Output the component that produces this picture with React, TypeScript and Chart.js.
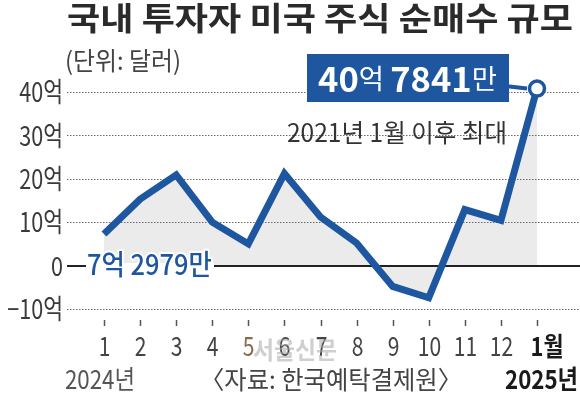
import React, { useEffect, useRef } from "react";
import { Chart, registerables } from "chart.js";

Chart.register(...registerables);

// ---- data ----
const categories = ["1", "2", "3", "4", "5", "6", "7", "8", "9", "10", "11", "12", "1월"];
const values = [7.2979, 15.3, 20.9, 10.0, 5.0, 21.2, 11.2, 5.2, -4.8, -7.4, 12.9, 10.4, 40.7841];
const yTicks = [40, 30, 20, 10, 0, -10];
const yTickLabels = ["40억", "30억", "20억", "10억", "0", "−10억"];
const titleText = "국내 투자자 미국 주식 순매수 규모";
const unitText = "(단위: 달러)";
const sourceText = "〈자료: 한국예탁결제원〉";
const startYearText = "2024년";
const endYearText = "2025년";
const firstValueText = ["7억", " 2979만"];
const lastValueParts = ["40", "억 ", "7841", "만"];
const noteText = "2021년 1월 이후 최대";
const watermarkText = "서울신문";

const BLUE = "#1e56a0";
const FONT = '"Noto Sans CJK KR", "Noto Sans", sans-serif';

type Run = { t: string; font: string; color: string };

function drawRuns(
  ctx: CanvasRenderingContext2D,
  runs: Run[],
  left: number,
  right: number,
  cy: number,
  halo = 0
) {
  const widths = runs.map((r) => {
    ctx.font = r.font;
    return ctx.measureText(r.t).width;
  });
  const total = widths.reduce((a, b) => a + b, 0);
  const sx = (right - left) / total;
  ctx.save();
  ctx.translate(left, cy);
  ctx.scale(sx, 1);
  ctx.textAlign = "left";
  ctx.textBaseline = "middle";
  if (halo > 0) {
    let x = 0;
    runs.forEach((r, i) => {
      ctx.font = r.font;
      ctx.strokeStyle = "#ffffff";
      ctx.lineWidth = halo;
      ctx.lineJoin = "round";
      ctx.strokeText(r.t, x, 0);
      x += widths[i];
    });
  }
  let x = 0;
  runs.forEach((r, i) => {
    ctx.font = r.font;
    ctx.fillStyle = r.color;
    ctx.fillText(r.t, x, 0);
    x += widths[i];
  });
  ctx.restore();
}

const decoPlugin = {
  id: "deco",
  afterDatasetDraw(chart: any, args: any) {
    if (args.index !== 1) return;
    const ctx: CanvasRenderingContext2D = chart.ctx;
    const y = chart.scales.y;
    ctx.save();
    yTicks.forEach((v) => {
      const py = Math.round(y.getPixelForValue(v));
      ctx.beginPath();
      if (v === 0) {
        ctx.setLineDash([]);
        ctx.strokeStyle = "#222";
        ctx.lineWidth = 2;
        ctx.moveTo(67, py);
        ctx.lineTo(580, py);
      } else {
        ctx.setLineDash([1.5, 1.5]);
        ctx.strokeStyle = "#6a6a6a";
        ctx.lineWidth = 1;
        ctx.moveTo(67, py + 0.5);
        ctx.lineTo(580, py + 0.5);
      }
      ctx.stroke();
    });
    ctx.restore();
  },
  afterDraw(chart: any) {
    const ctx: CanvasRenderingContext2D = chart.ctx;
    const xs = chart.scales.x;
    const ys = chart.scales.y;
    ctx.save();

    // title
    drawRuns(ctx, [{ t: titleText, font: `bold 32px ${FONT}`, color: "#2a2a2a" }], 67, 573, 18);
    // unit
    drawRuns(ctx, [{ t: unitText, font: `25px ${FONT}`, color: "#444" }], 65, 181, 60);

    // y labels
    ctx.textBaseline = "middle";
    ctx.textAlign = "right";
    yTicks.forEach((v, i) => {
      const py = ys.getPixelForValue(v);
      ctx.font = `27px ${FONT}`;
      ctx.fillStyle = "#3a3a3a";
      ctx.save();
      ctx.translate(63, py);
      ctx.scale(0.8, 1);
      ctx.fillText(yTickLabels[i], 0, 0);
      ctx.restore();
    });

    // x ticks and labels
    categories.forEach((c, i) => {
      const px = Math.round(xs.getPixelForValue(i)) + 0.5;
      ctx.beginPath();
      ctx.strokeStyle = "#555";
      ctx.lineWidth = 1.5;
      ctx.moveTo(px, 320);
      ctx.lineTo(px, 326);
      ctx.stroke();
      if (i === categories.length - 1) {
        drawRuns(ctx, [{ t: c, font: `bold 26px ${FONT}`, color: "#1a1a1a" }], px - 7, px + 26, 346);
      } else {
        ctx.save();
        ctx.translate(px, 346);
        ctx.scale(0.78, 1);
        ctx.textAlign = "center";
        ctx.font = `27px ${FONT}`;
        ctx.fillStyle = i === 4 ? "#8a6a4a" : "#444";
        ctx.fillText(c, 0, 0);
        ctx.restore();
      }
    });

    // watermark
    ctx.save();
    ctx.globalAlpha = 0.55;
    drawRuns(ctx, [{ t: watermarkText, font: `bold 24px ${FONT}`, color: "#a8a8a8" }], 253, 337, 350);
    ctx.restore();

    // bottom row
    drawRuns(ctx, [{ t: startYearText, font: `26px ${FONT}`, color: "#555" }], 65, 135, 379);
    drawRuns(ctx, [{ t: sourceText, font: `25px ${FONT}`, color: "#444" }], 200, 462, 379);
    drawRuns(ctx, [{ t: endYearText, font: `bold 26px ${FONT}`, color: "#1a1a1a" }], 505, 578, 379);

    // first value label (cover zero line behind it)
    const zy = Math.round(ys.getPixelForValue(0));
    ctx.fillStyle = "#ffffff";
    ctx.fillRect(86, zy - 3, 128, 6);
    drawRuns(
      ctx,
      firstValueText.map((t) => ({ t, font: `500 28px ${FONT}`, color: BLUE })),
      87,
      212,
      264,
      4
    );

    // note
    drawRuns(ctx, [{ t: noteText, font: `25px ${FONT}`, color: "#333" }], 287, 507, 132);

    // callout
    const lx = xs.getPixelForValue(categories.length - 1);
    const ly = ys.getPixelForValue(values[values.length - 1]);
    ctx.fillStyle = BLUE;
    ctx.fillRect(307, 54, 202, 48);
    ctx.beginPath();
    ctx.strokeStyle = BLUE;
    ctx.lineWidth = 4;
    ctx.moveTo(505, 86);
    ctx.lineTo(lx - 10, ly);
    ctx.stroke();
    drawRuns(
      ctx,
      [
        { t: lastValueParts[0], font: `bold 34px ${FONT}`, color: "#fff" },
        { t: lastValueParts[1], font: `27px ${FONT}`, color: "#fff" },
        { t: lastValueParts[2], font: `bold 34px ${FONT}`, color: "#fff" },
        { t: lastValueParts[3], font: `27px ${FONT}`, color: "#fff" },
      ],
      318,
      497,
      79
    );

    ctx.restore();
  },
};

export default function App() {
  const ref = useRef<HTMLCanvasElement | null>(null);
  useEffect(() => {
    if (!ref.current) return;
    const last = values.length - 1;
    const chart = new Chart(ref.current, {
      type: "line",
      data: {
        labels: categories,
        datasets: [
          {
            data: values,
            borderColor: BLUE,
            borderWidth: 7,
            fill: false,
            tension: 0,
            clip: false as any,
            pointRadius: values.map((_, i) => (i === last ? 7.5 : 0)),
            pointBackgroundColor: "#ffffff",
            pointBorderColor: BLUE,
            pointBorderWidth: 3.5,
            order: 0,
          },
          {
            data: values,
            borderWidth: 0,
            borderColor: "rgba(0,0,0,0)",
            backgroundColor: "#ebebeb",
            fill: "origin",
            pointRadius: 0,
            tension: 0,
            order: 1,
          },
        ],
      },
      options: {
        responsive: false,
        animation: false,
        devicePixelRatio: 1,
        layout: { padding: { left: 104, right: 43, top: 92, bottom: 84 } },
        scales: {
          x: { display: false, offset: false },
          y: { display: false, min: -10, max: 40 },
        },
        plugins: {
          legend: { display: false },
          tooltip: { enabled: false },
        },
      },
      plugins: [decoPlugin as any],
    });
    return () => chart.destroy();
  }, []);
  return (
    <div style={{ position: "absolute", left: 0, top: 0, width: 580, height: 393, background: "#fff" }}>
      <canvas ref={ref} width={580} height={393} style={{ width: 580, height: 393, display: "block" }} />
    </div>
  );
}
